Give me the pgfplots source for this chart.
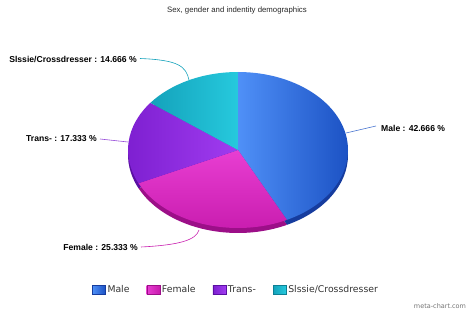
\documentclass[border=0pt]{standalone}
\usepackage{pgfplots}
\pgfplotsset{compat=1.18}
\usepackage{pgfplotstable}
\usepackage{fontspec}
\setmainfont{Liberation Sans}
\newfontfamily\legfont{DejaVu Sans}
\definecolor{maleA}{HTML}{4F90F7}\definecolor{maleB}{HTML}{1C52C4}\definecolor{maleS}{HTML}{163C9E}
\definecolor{femA}{HTML}{E83ED2}\definecolor{femB}{HTML}{C81CAE}\definecolor{femS}{HTML}{9C0F88}
\definecolor{trA}{HTML}{7C1ECF}\definecolor{trB}{HTML}{A03CF0}\definecolor{trS}{HTML}{5A0FA2}
\definecolor{ssA}{HTML}{14A2BB}\definecolor{ssB}{HTML}{26C9DD}\definecolor{ssS}{HTML}{0E7F94}
\definecolor{legtxt}{HTML}{333333}
\pgfplotstableread[col sep=comma]{
label,value
Male,42.666
Female,25.333
Trans-,17.333
Slssie/Crossdresser,14.666
}\piedata
\begin{document}
\begin{tikzpicture}
\pgfplotstablegetelem{0}{value}\of\piedata \let\vA\pgfplotsretval
\pgfplotstablegetelem{1}{value}\of\piedata \let\vB\pgfplotsretval
\pgfplotstablegetelem{2}{value}\of\piedata \let\vC\pgfplotsretval
\pgfplotstablegetelem{3}{value}\of\piedata \let\vD\pgfplotsretval
\pgfmathsetmacro\aA{90}
\pgfmathsetmacro\aB{\aA-3.6*\vA}
\pgfmathsetmacro\aC{\aB-3.6*\vB}
\pgfmathsetmacro\aD{\aC-3.6*\vC}
\pgfmathsetmacro\aE{\aD-3.6*\vD}
\begin{axis}[width=474pt,height=316pt,scale only axis,
  xmin=0,xmax=474,ymin=0,ymax=316,hide axis,clip=false,
  legend style={at={(axis cs:236,26)},anchor=center,draw=none,fill=none,
    legend columns=4,font=\legfont\fontsize{9.3}{11}\selectfont,text=legtxt,
    /tikz/every even column/.append style={column sep=15pt}},
  legend image code/.code={\draw[#1] (0pt,-4.5pt) rectangle (13pt,4.5pt);}]
\path (axis cs:0,0) rectangle (axis cs:474,316);
% side (depth)
\fill[maleS] (axis cs:238,161) -- ++(\aA:110pt and 78pt) arc[start angle=\aA,end angle=\aB,x radius=110pt,y radius=78pt] -- cycle;
\fill[femS] (axis cs:238,161) -- ++(\aB:110pt and 78pt) arc[start angle=\aB,end angle=\aC,x radius=110pt,y radius=78pt] -- cycle;
\fill[trS] (axis cs:238,161) -- ++(\aC:110pt and 78pt) arc[start angle=\aC,end angle=\aD,x radius=110pt,y radius=78pt] -- cycle;
\fill[ssS] (axis cs:238,161) -- ++(\aD:110pt and 78pt) arc[start angle=\aD,end angle=\aE,x radius=110pt,y radius=78pt] -- cycle;
% top
\shade[left color=maleA,right color=maleB] (axis cs:238,166) -- ++(\aA:110pt and 78pt) arc[start angle=\aA,end angle=\aB,x radius=110pt,y radius=78pt] -- cycle;
\shade[top color=femA,bottom color=femB] (axis cs:238,166) -- ++(\aB:110pt and 78pt) arc[start angle=\aB,end angle=\aC,x radius=110pt,y radius=78pt] -- cycle;
\shade[left color=trA,right color=trB] (axis cs:238,166) -- ++(\aC:110pt and 78pt) arc[start angle=\aC,end angle=\aD,x radius=110pt,y radius=78pt] -- cycle;
\shade[left color=ssA,right color=ssB] (axis cs:238,166) -- ++(\aD:110pt and 78pt) arc[start angle=\aD,end angle=\aE,x radius=110pt,y radius=78pt] -- cycle;
% leader lines
\draw[ssA,line width=0.6pt] (axis cs:189,236) .. controls (axis cs:186,250) and (axis cs:178,256) .. (axis cs:140,257.5);
\draw[trA!80,line width=0.6pt] (axis cs:128,174) -- (axis cs:100,177);
\draw[maleB!80,line width=0.6pt] (axis cs:346,183) -- (axis cs:376,190);
\draw[femB,line width=0.6pt] (axis cs:199,86) .. controls (axis cs:196,76) and (axis cs:180,71) .. (axis cs:141,69);
% labels
\node[anchor=east,font=\bfseries\fontsize{8.6}{10}\selectfont,inner sep=0pt] at (axis cs:137,257) {Slssie/Crossdresser : 14.666 \%};
\node[anchor=east,font=\bfseries\fontsize{8.6}{10}\selectfont,inner sep=0pt] at (axis cs:97,177) {Trans- : 17.333 \%};
\node[anchor=west,font=\bfseries\fontsize{8.6}{10}\selectfont,inner sep=0pt] at (axis cs:381,188) {Male : 42.666 \%};
\node[anchor=east,font=\bfseries\fontsize{8.6}{10}\selectfont,inner sep=0pt] at (axis cs:138,69) {Female : 25.333 \%};
% title & watermark
\node[font=\fontsize{7.8}{9}\selectfont,text=black!85] at (axis cs:237,306) {Sex, gender and indentity demographics};
\node[font=\legfont\fontsize{6.5}{8}\selectfont,text=black!55] at (axis cs:440,10) {meta-chart.com};
% legend
\addlegendimage{left color=maleA,right color=maleB,draw=maleS}
\addlegendentry{Male}
\addlegendimage{left color=femA,right color=femB,draw=femS}
\addlegendentry{Female}
\addlegendimage{left color=trA,right color=trB,draw=trS}
\addlegendentry{Trans-}
\addlegendimage{left color=ssA,right color=ssB,draw=ssS}
\addlegendentry{Slssie/Crossdresser}
\end{axis}
\end{tikzpicture}
\end{document}
